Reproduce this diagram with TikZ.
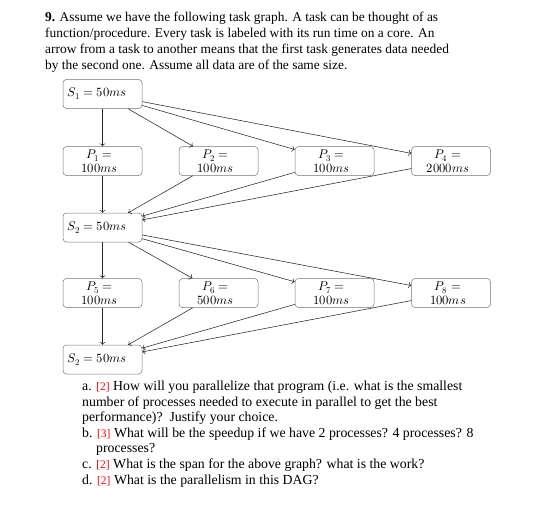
\documentclass[tikz,border=0pt]{standalone}
\usepackage{fontspec}
\setmainfont{Liberation Serif}
\usepackage{unicode-math}
\setmathfont{Latin Modern Math}
\usetikzlibrary{arrows.meta}
\tikzset{
  task/.style={draw=black!55, line width=0.5pt, rounded corners=3.5pt, minimum width=79pt, minimum height=29pt, inner sep=0.5pt, align=center, font=\fontsize{12.6}{14}\selectfont},
  dep/.style={->, line width=0.55pt, draw=black!85},
  txt/.style={anchor=base west, inner sep=0pt, font=\fontsize{13.4}{16}\selectfont},
  qtxt/.style={anchor=base west, inner sep=0pt, font=\fontsize{13.8}{16}\selectfont},
}
\newcommand{\mk}[1]{{\color{red}\fontsize{11.5}{13}\selectfont[#1]}}
\newcommand{\sline}[1]{#1\kern11pt}
\newcommand{\pline}[1]{#1\kern6pt}
\begin{document}
\begin{tikzpicture}[x=1pt,y=-1pt]
\useasboundingbox (0,0) rectangle (541,511);
% top text
\node[txt] (t1) at (45,22) {\textbf{9.} Assume we have the following task graph. A task can be thought of as};
\node[txt] (t2) at (45,38) {function/procedure. Every task is labeled with its run time on a core. An};
\node[txt] (t3) at (45,54) {arrow from a task to another means that the first task generates data needed};
\node[txt] (t4) at (45,70) {by the second one. Assume all data are of the same size.};
% nodes
\node[task] (s1) at (102.5,94) {\sline{$S_1 = 50ms$}};
\node[task] (p1) at (102.5,161) {\pline{$P_1 =$}\\\pline{$100ms$}};
\node[task] (p2) at (218.5,161) {\pline{$P_2 =$}\\\pline{$100ms$}};
\node[task] (p3) at (334.5,161) {\pline{$P_3 =$}\\\pline{$100ms$}};
\node[task] (p4) at (451,161) {\pline{$P_4 =$}\\\pline{$2000ms$}};
\node[task] (s2) at (102.5,227.5) {\sline{$S_2 = 50ms$}};
\node[task] (p5) at (102.5,293) {\pline{$P_5 =$}\\\pline{$100ms$}};
\node[task] (p6) at (218.5,293) {\pline{$P_6 =$}\\\pline{$500ms$}};
\node[task] (p7) at (334.5,293) {\pline{$P_7 =$}\\\pline{$100ms$}};
\node[task] (p8) at (451,293) {\pline{$P_8 =$}\\\pline{$100ms$}};
\node[task] (s3) at (102.5,359.5) {\sline{$S_2 = 50ms$}};
% edges
\foreach \p in {p1,p2,p3,p4} {
  \draw[dep] (s1) -- (\p);
  \draw[dep] (\p) -- (s2);
}
\foreach \p in {p5,p6,p7,p8} {
  \draw[dep] (s2) -- (\p);
  \draw[dep] (\p) -- (s3);
}
% questions
\node[qtxt] (qa1) at (82,390) {a. \mk{2} How will you parallelize that program (i.e. what is the smallest};
\node[qtxt] (qa2) at (82,406) {number of processes needed to execute in parallel to get the best};
\node[qtxt] (qa3) at (82,421) {performance)?\ \ Justify your choice.};
\node[qtxt] (qb1) at (82,437) {b. \mk{3} What will be the speedup if we have 2 processes? 4 processes? 8};
\node[qtxt] (qb2) at (96,452) {processes?};
\node[qtxt] (qc) at (82,468) {c. \mk{2} What is the span for the above graph? what is the work?};
\node[qtxt] (qd) at (82,484) {d. \mk{2} What is the parallelism in this DAG?};
\end{tikzpicture}
\end{document}
